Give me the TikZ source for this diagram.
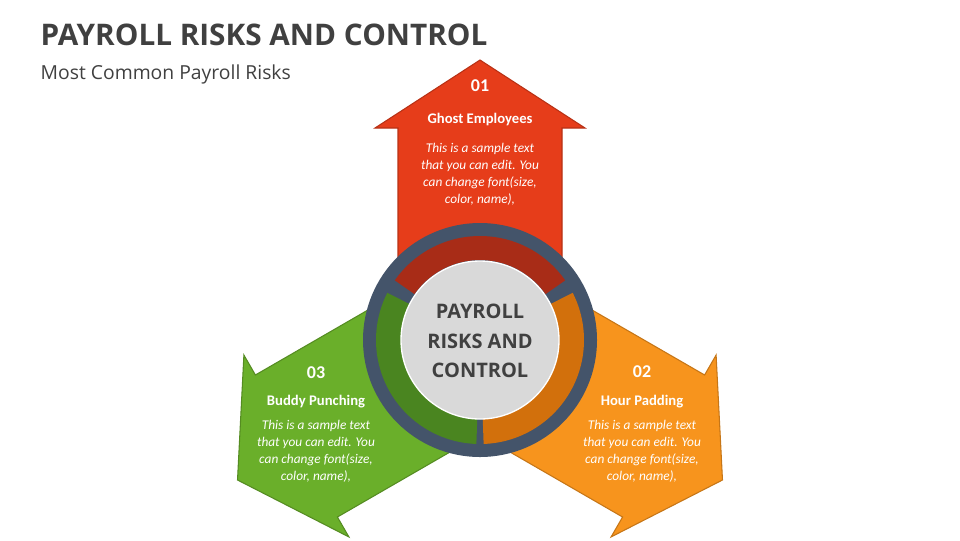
\documentclass[tikz,border=0pt]{standalone}
\usepackage{fontspec}
\setmainfont{Carlito}
\newfontfamily\titlefont{Open Sans}
\definecolor{cred}{HTML}{E63D1A}
\definecolor{credd}{HTML}{A82C17}
\definecolor{corg}{HTML}{F7941D}
\definecolor{corgd}{HTML}{D2700C}
\definecolor{cgrn}{HTML}{6AAF2A}
\definecolor{cgrnd}{HTML}{4A8520}
\definecolor{cring}{HTML}{44546A}
\definecolor{ctxt}{HTML}{404040}
\tikzset{
  arrowshape/.style={line width=0.8pt},
  num/.style={text=white,font=\bfseries\fontsize{13.5}{15}\selectfont},
  ttl/.style={text=white,font=\bfseries\fontsize{11}{12}\selectfont},
  body/.style={text=white,font=\itshape\fontsize{10}{12.8}\selectfont,align=center}
}
\begin{document}
\begin{tikzpicture}[x=0.75pt,y=-0.75pt]
\useasboundingbox (0,0) rectangle (960,540);
\node[anchor=west,text=ctxt,font=\titlefont\bfseries\fontsize{22.3}{27}\selectfont] (title) at (36,35) {PAYROLL RISKS AND CONTROL};
\node[anchor=west,text=ctxt,font=\titlefont\fontsize{14.5}{17}\selectfont] (sub) at (36,74) {Most Common Payroll Risks};
\begin{scope}[shift={(480,340)},yscale=-1]
  \foreach \r/\c in {0/cred,-120/cgrn,120/corg}{
    \begin{scope}[rotate=\r]
      \filldraw[arrowshape,fill=\c,draw=\c!80!black] (0,280) -- (105,212) -- (82,212) -- (82,50) -- (-82,50) -- (-82,212) -- (-105,212) -- cycle;
    \end{scope}
  }
  \fill[cring] (0,0) circle (117);
  \fill[credd] (35:80) arc (35:145:80) -- (145:104) arc (145:35:104) -- cycle;
  \fill[corgd] (-88:78) arc (-88:27:78) -- (27:104) arc (27:-88:104) -- cycle;
  \fill[cgrnd] (153:78) arc (153:268:78) -- (268:104) arc (268:153:104) -- cycle;
  \filldraw[fill=black!15,draw=white,line width=1pt] (0,0) circle (79);
\end{scope}
\node[text=ctxt,align=center,font=\titlefont\bfseries\fontsize{15}{22}\selectfont] (center) at (480,341) {PAYROLL\\RISKS AND\\CONTROL};
\node[num] (n1) at (480,86) {01};
\node[ttl] (t1) at (480,120) {Ghost Employees};
\node[body] (b1) at (480,174) {This is a sample text\\that you can edit. You\\can change font(size,\\color, name),};
\node[num] (n2) at (642,372) {02};
\node[ttl] (t2) at (642,402) {Hour Padding};
\node[body] (b2) at (642,451) {This is a sample text\\that you can edit. You\\can change font(size,\\color, name),};
\node[num] (n3) at (316,373) {03};
\node[ttl] (t3) at (316,402) {Buddy Punching};
\node[body] (b3) at (316,451) {This is a sample text\\that you can edit. You\\can change font(size,\\color, name),};
\end{tikzpicture}
\end{document}
